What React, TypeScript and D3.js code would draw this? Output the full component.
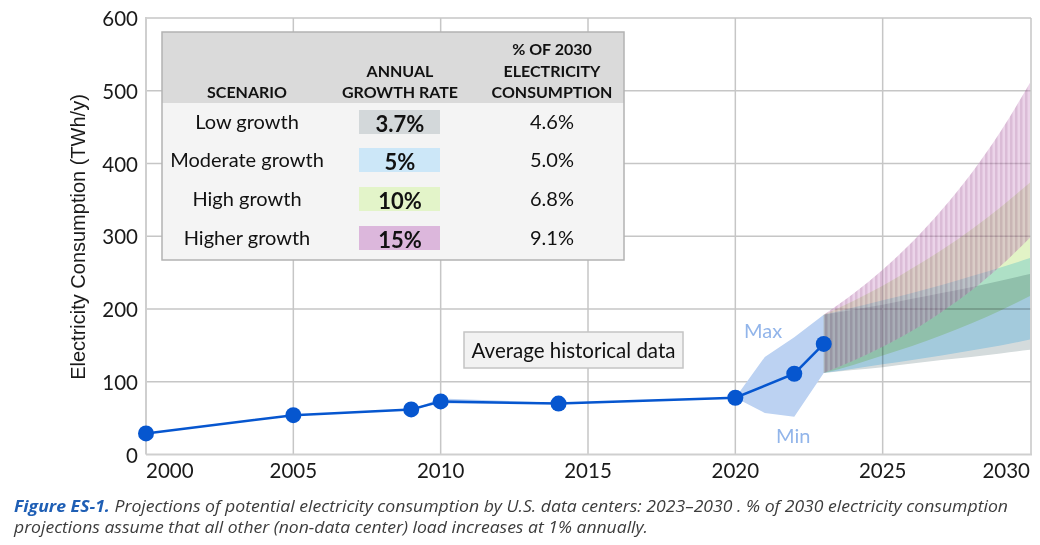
import * as d3 from 'd3';

// historical averages
const histYears = [2000, 2005, 2009, 2010, 2014, 2020, 2022, 2023];
const histValues = [29, 54, 62, 73, 70, 78, 111, 152];

// min/max envelope around the historical data
const envYears = [2009, 2010, 2014, 2020, 2021, 2022, 2023];
const envMin = [62, 70, 70, 78, 57, 52, 112];
const envMax = [62, 77, 71, 78, 134, 161, 192];

// projections 2023-2030 (low / high bound per scenario)
const projYears = [2023, 2024, 2025, 2026, 2027, 2028, 2029, 2030];
const lowLo = [112, 116, 120, 125, 130, 134, 139, 144];
const lowHi = [192, 199, 206, 214, 222, 230, 239, 248];
const modLo = [112, 118, 124, 130, 136, 143, 150, 158];
const modHi = [192, 202, 212, 222, 233, 245, 257, 270];
const highLo = [112, 123, 136, 149, 164, 180, 198, 218];
const highHi = [192, 211, 232, 256, 281, 309, 340, 374];
const higherLo = [112, 129, 148, 170, 196, 225, 259, 298];
const higherHi = [192, 221, 254, 292, 336, 386, 444, 511];

const scenarios = ['Low growth', 'Moderate growth', 'High growth', 'Higher growth'];
const rates = ['3.7%', '5%', '10%', '15%'];
const shares = ['4.6%', '5.0%', '6.8%', '9.1%'];
const swatches = ['#d3d8da', '#cce7f8', '#e3f4c9', '#dcb7dc'];

const xTicks = [2000, 2005, 2010, 2015, 2020, 2025, 2030];
const yTicks = [0, 100, 200, 300, 400, 500, 600];

const W = 1040;
const H = 545;
const FONT = 'Lato, "Open Sans", sans-serif';

export default function App() {
  const x = d3.scaleLinear().domain([2000, 2030]).range([146, 1030]);
  const y = d3.scaleLinear().domain([0, 600]).range([454.5, 18]);

  const band = (lo: number[], hi: number[], years: number[]) =>
    d3
      .area<number>()
      .x((_, i) => x(years[i]))
      .y0((_, i) => y(lo[i]))
      .y1((_, i) => y(hi[i]))
      .curve(d3.curveMonotoneX)(lo) || undefined;

  const envPath =
    d3
      .area<number>()
      .x((_, i) => x(envYears[i]))
      .y0((_, i) => y(envMin[i]))
      .y1((_, i) => y(envMax[i]))(envMin) || undefined;

  const linePath =
    d3
      .line<number>()
      .x((_, i) => x(histYears[i]))
      .y((d) => y(d))(histValues) || undefined;

  const bands = [
    { lo: lowLo, hi: lowHi, fill: '#d4dbdc', blend: 'multiply', op: 1 },
    { lo: modLo, hi: modHi, fill: '#c4ebff', blend: 'multiply', op: 1 },
    { lo: highLo, hi: highHi, fill: '#e2f3c6', blend: 'multiply', op: 1 },
    { lo: higherLo, hi: higherHi, fill: 'url(#stripes)', blend: 'normal', op: 0.4 },
  ];

  const rowY = [121, 159, 198, 237];
  const colScenario = 247;
  const colRate = 400;
  const colShare = 552;

  return (
    <svg
      width={W}
      height={H}
      style={{ position: 'absolute', left: 0, top: 0, background: '#fff' }}
      fontFamily={FONT}
    >
      <defs>
        <pattern id="stripes" width={5} height={10} patternUnits="userSpaceOnUse">
          <rect width={5} height={10} fill="#ce94c8" />
          <rect width={2.5} height={10} fill="#a4589a" />
        </pattern>
      </defs>

      {/* grid */}
      <g stroke="#c6c6c6" strokeWidth={1.5}>
        {yTicks.slice(1).map((t) => (
          <line key={t} x1={x(2000)} x2={x(2030) + 1} y1={y(t)} y2={y(t)} />
        ))}
        {xTicks.slice(1, -1).map((t) => (
          <line key={t} x1={x(t)} x2={x(t)} y1={y(600)} y2={y(0)} />
        ))}
        <line x1={x(2030) + 1} x2={x(2030) + 1} y1={y(600)} y2={y(0)} />
      </g>
      <g stroke="#cfcfcf" strokeWidth={2}>
        <line x1={x(2000)} x2={x(2000)} y1={y(600) - 1} y2={y(0)} />
        <line x1={x(2000)} x2={x(2030) + 2} y1={y(0)} y2={y(0)} />
      </g>

      {/* tick labels */}
      <g fontSize={20.5} fill="#1a1a1a">
        {yTicks.map((t) => (
          <text key={t} x={138} y={y(t)} textAnchor="end" dominantBaseline="central">
            {t}
          </text>
        ))}
        {xTicks.map((t, i) => (
          <text
            key={t}
            x={x(t)}
            y={470}
            textAnchor={i === 0 ? 'start' : i === xTicks.length - 1 ? 'end' : 'middle'}
            dominantBaseline="central"
          >
            {t}
          </text>
        ))}
      </g>
      <text
        transform={`translate(78,237) rotate(-90)`}
        textAnchor="middle"
        dominantBaseline="central"
        fontFamily='"Liberation Sans", Arial, sans-serif'
        fontSize={20}
        fill="#1a1a1a"
      >
        Electricity Consumption (TWh/y)
      </text>

      {/* historical envelope */}
      <path d={envPath} fill="#bcd2f2" />

      {/* projections */}
      {bands.map((b, i) => (
        <path
          key={i}
          d={band(b.lo, b.hi, projYears)}
          fill={b.fill}
          fillOpacity={b.op}
          style={{ mixBlendMode: b.blend as any }}
        />
      ))}

      {/* historical line */}
      <path d={linePath} fill="none" stroke="#0656cf" strokeWidth={2.5} />
      {histValues.map((v, i) => (
        <circle key={i} cx={x(histYears[i])} cy={y(v)} r={8} fill="#0656cf" />
      ))}

      <text x={744} y={330} fontSize={20} fill="#92b5ea" dominantBaseline="central">
        Max
      </text>
      <text x={776} y={435} fontSize={20} fill="#92b5ea" dominantBaseline="central">
        Min
      </text>

      {/* label box */}
      <rect x={464} y={332} width={219} height={36} fill="#f2f2f2" stroke="#c4c4c4" strokeWidth={1.5} />
      <text x={573.5} y={349.5} textAnchor="middle" dominantBaseline="central" fontSize={20.5} fill="#111">
        Average historical data
      </text>

      {/* table */}
      <rect x={162} y={32} width={462} height={228} fill="#f4f4f4" />
      <rect x={162} y={32} width={462} height={71} fill="#dadada" />
      <rect x={162} y={32} width={462} height={228} fill="none" stroke="#b3b3b3" strokeWidth={1.5} />
      <g fontSize={16} fontWeight={700} fill="#111" textAnchor="middle" dominantBaseline="central">
        <text x={colScenario} y={91}>SCENARIO</text>
        <text x={colRate} y={70}>ANNUAL</text>
        <text x={colRate} y={91}>GROWTH RATE</text>
        <text x={colShare} y={48}>% OF 2030</text>
        <text x={colShare} y={70}>ELECTRICITY</text>
        <text x={colShare} y={91}>CONSUMPTION</text>
      </g>
      {scenarios.map((s, i) => (
        <g key={s} dominantBaseline="central" textAnchor="middle" fill="#111">
          <text x={colScenario} y={rowY[i]} fontSize={20}>
            {s}
          </text>
          <rect x={359} y={rowY[i] - 11} width={81} height={24} fill={swatches[i]} />
          <text x={colRate} y={rowY[i] + 2} fontSize={22} fontWeight={700}>
            {rates[i]}
          </text>
          <text x={colShare} y={rowY[i]} fontSize={20}>
            {shares[i]}
          </text>
        </g>
      ))}

      {/* caption */}
      <text x={14} y={512} fontSize={15.5} fontStyle="italic" fontFamily='"Open Sans", sans-serif' fill="#3c3c3c" textLength={994} lengthAdjust="spacingAndGlyphs">
        <tspan fontWeight={700} fill="#1f5fb5">Figure ES-1.</tspan> Projections of potential electricity consumption by U.S. data centers: 2023–2030 . % of 2030 electricity consumption
      </text>
      <text x={14} y={533} fontSize={15.5} fontStyle="italic" fontFamily='"Open Sans", sans-serif' fill="#3c3c3c" textLength={634} lengthAdjust="spacingAndGlyphs">
        projections assume that all other (non-data center) load increases at 1% annually.
      </text>
    </svg>
  );
}
